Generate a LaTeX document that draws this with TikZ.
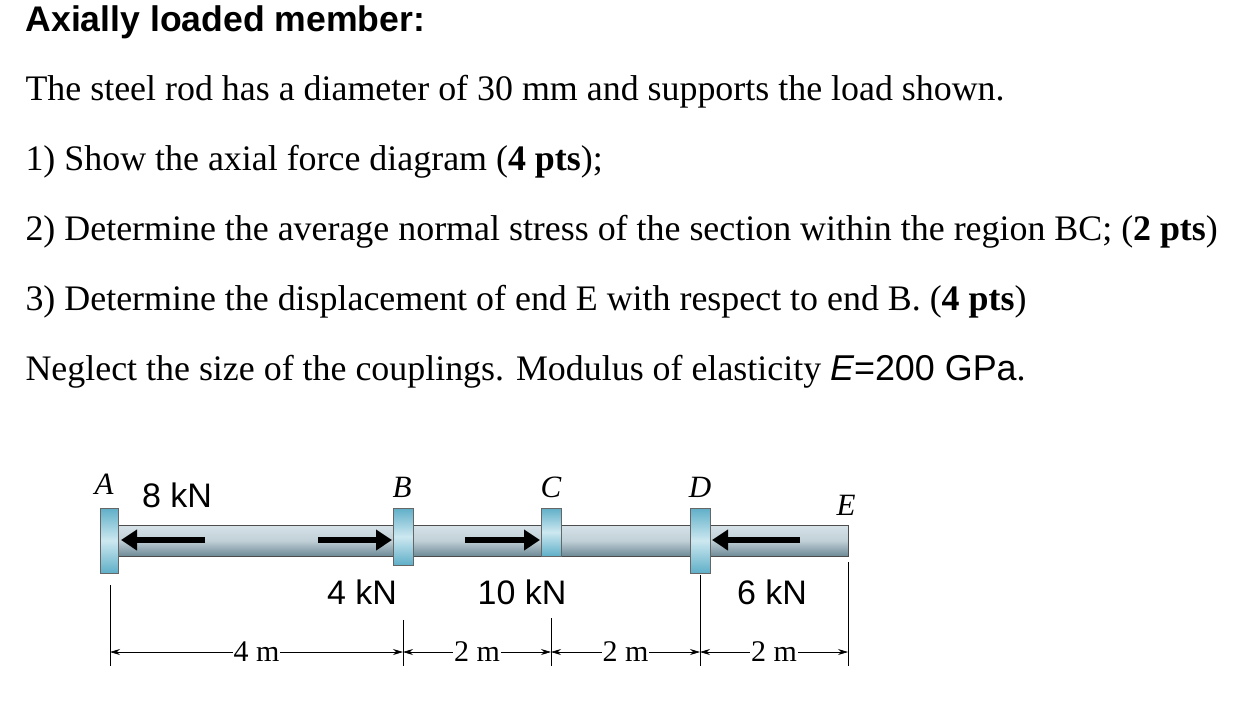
\documentclass[tikz,border=0pt]{standalone}
\usepackage{fontspec}
\setmainfont{Liberation Serif}
\setsansfont{Liberation Sans}
\usetikzlibrary{arrows.meta}
\definecolor{rodd}{HTML}{6E8A96}
\definecolor{rodl}{HTML}{D6E2E8}
\definecolor{fl}{HTML}{5FAFC8}
\definecolor{fll}{HTML}{CDE8F0}
\begin{document}
\begin{tikzpicture}[x=1pt,y=-1pt,
  body/.style={anchor=base west,font=\fontsize{35.9}{40}\selectfont},
  lab/.style={font=\sffamily\fontsize{34}{38}\selectfont},
  pt/.style={font=\itshape\fontsize{31}{34}\selectfont},
  dimt/.style={font=\fontsize{30}{34}\selectfont,fill=white,inner sep=1pt},
  flange/.style={draw=black!60,line width=0.6pt,top color=fl,bottom color=fl,middle color=fll},
  force/.style={line width=6pt,-{Triangle[length=16pt,width=20pt]}},
  dim/.style={line width=0.7pt,{Stealth[length=10pt,width=6pt]}-{Stealth[length=10pt,width=6pt]}},
  ext/.style={line width=0.6pt}]
\useasboundingbox (0,0) rectangle (1258,710);
\node[anchor=base west,font=\sffamily\bfseries\fontsize{35.6}{40}\selectfont] (t) at (22,31) {Axially loaded member:};
\node[body] (l1) at (22,100) {The steel rod has a diameter of 30 mm and supports the load shown.};
\node[body] (l2) at (22,170) {1) Show the axial force diagram (\textbf{4 pts});};
\node[body] (l3) at (22,240) {2) Determine the average normal stress of the section within the region BC; (\textbf{2 pts})};
\node[body] (l4) at (22,310) {3) Determine the displacement of end E with respect to end B. (\textbf{4 pts})};
\node[body] (l5) at (22,380) {Neglect the size of the couplings. Modulus of elasticity {\sffamily\itshape E}{\sffamily=200 GPa}.};
% rod
\shade[top color=rodl,bottom color=rodd,middle color=rodl!80!rodd,draw=black!70,line width=0.6pt] (110,525) rectangle (848,556);
% flanges
\draw[flange] (100,508) rectangle (118,573);
\draw[flange] (393,508) rectangle (413,565);
\draw[flange] (541,508) rectangle (561,556);
\draw[flange] (690,508) rectangle (710,573);
% coordinates
\coordinate (a1) at (205,540); \coordinate (a2) at (121,540);
\coordinate (b1) at (318,540); \coordinate (b2) at (392,540);
\coordinate (c1) at (465,540); \coordinate (c2) at (540,540);
\coordinate (d1) at (800,540); \coordinate (d2) at (712,540);
\draw[force] (a1) -- (a2);
\draw[force] (b1) -- (b2);
\draw[force] (c1) -- (c2);
\draw[force] (d1) -- (d2);
% labels
\node[pt] (A) at (104,484) {A};
\node[pt] (B) at (402,487) {B};
\node[pt] (C) at (551,487) {C};
\node[pt] (D) at (700,487) {D};
\node[pt] (E) at (846,505) {E};
\node[lab] (f8) at (177,495) {8 kN};
\node[lab] (f4) at (362,592) {4 kN};
\node[lab] (f10) at (522,592) {10 kN};
\node[lab] (f6) at (772,592) {6 kN};
% dimension lines
\coordinate (xa) at (110,652); \coordinate (xb) at (403,652);
\coordinate (xc) at (551,652); \coordinate (xd) at (700,652); \coordinate (xe) at (848,652);
\draw[ext] (110,585) -- (110,666);
\draw[ext] (403,620) -- (403,666);
\draw[ext] (551,618) -- (551,666);
\draw[ext] (700,575) -- (700,666);
\draw[ext] (848,562) -- (848,666);
\draw[dim] (xa) -- (xb) node[midway,dimt] {4 m};
\draw[dim] (xb) -- (xc) node[midway,dimt] {2 m};
\draw[dim] (xc) -- (xd) node[midway,dimt] {2 m};
\draw[dim] (xd) -- (xe) node[midway,dimt] {2 m};
\end{tikzpicture}
\end{document}
